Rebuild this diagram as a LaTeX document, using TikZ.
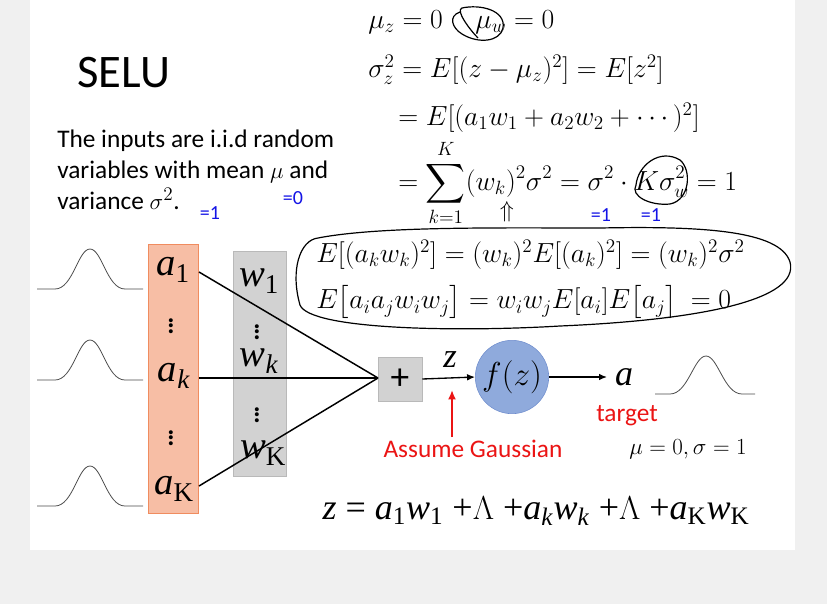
\documentclass[tikz,border=0pt]{standalone}
\usepackage{amsmath}
\usepackage{fontspec}
\setmainfont{Carlito}
\newfontfamily\tnr{Liberation Serif}
\usetikzlibrary{arrows.meta}
\definecolor{bgout}{RGB}{240,240,240}
\definecolor{org}{RGB}{247,190,165}
\definecolor{orgb}{RGB}{240,140,95}
\definecolor{gbox}{RGB}{210,210,210}
\definecolor{gboxb}{RGB}{185,185,185}
\definecolor{circ}{RGB}{143,170,220}
\definecolor{circb}{RGB}{110,140,205}
\definecolor{blu}{RGB}{20,20,230}
\definecolor{rd}{RGB}{235,20,20}
\tikzset{
 txt/.style={font=\fontsize{19}{23}\selectfont, align=left, inner sep=0},
 eq/.style={font=\fontsize{20}{24}\selectfont, inner sep=0, anchor=west},
 blue1/.style={font=\fontsize{15}{17}\selectfont, text=blu, inner sep=0},
 lab/.style={font=\tnr\itshape\fontsize{29}{32}\selectfont, inner sep=0},
 dts/.style={font=\fontsize{20}{20}\selectfont\bfseries, inner sep=0},
 gauss/.style={draw=black!70, line width=0.6pt},
 conn/.style={draw, line width=1.1pt},
 hand/.style={draw, line width=0.9pt},
 arr/.style={draw, line width=1pt, -{Latex[length=6pt,width=5pt]}}
}
\begin{document}
\begin{tikzpicture}[x=0.75pt,y=-0.75pt]
\fill[bgout] (0,0) rectangle (827,604);
\fill[white] (30,0) rectangle (795,550);
\useasboundingbox (0,0) rectangle (827,604);
% SELU
\node[font=\fontsize{35}{38}\selectfont, anchor=west, inner sep=0] (selu) at (77,73) {SELU};
\node[txt, anchor=north west] (intro) at (57,130) {The inputs are i.i.d random\\variables with mean $\mu$ and\\variance $\sigma^2$.};
\node[blue1] (b1) at (210,213) {=1};
\node[blue1] (b0) at (293,198) {=0};
% boxes
\draw[fill=org, draw=orgb] (148,244) rectangle (198,513);
\draw[fill=gbox, draw=gboxb] (233,251) rectangle (286,476);
% gaussians
\foreach \yb in {289,380,506}{
 \draw[gauss] (37,\yb) -- (55,\yb) .. controls (73,\yb) and (78,\yb-40) .. (90,\yb-40) .. controls (102,\yb-40) and (107,\yb) .. (125,\yb) -- (143,\yb);
}
\draw[gauss] (655,394) -- (670,394) .. controls (688,394) and (694,356) .. (706,356) .. controls (718,356) and (724,394) .. (742,394) -- (755,394);
% labels a
\node[lab] (a1) at (173,270) {a\textsubscript{\upshape 1}};
\node[lab] (ak) at (174,376) {a\textsubscript{k}};
\node[lab] (aK) at (174,489) {a\textsubscript{\upshape K}};
\node[dts] (d1) at (171,322) {$\vdots$};
\node[dts] (d2) at (171,434) {$\vdots$};
\node[lab] (w1) at (259,281) {w\textsubscript{\upshape 1}};
\node[lab] (wk) at (259,361) {w\textsubscript{k}};
\node[lab] (wK) at (263,453) {w\textsubscript{\upshape K}};
\node[dts] (d3) at (257,328) {$\vdots$};
\node[dts] (d4) at (257,411) {$\vdots$};
% plus
\node[draw=gboxb, fill=gbox, minimum width=33pt, minimum height=33pt, inner sep=0, font=\fontsize{28}{28}\selectfont] (plus) at (400,379) {+};
\coordinate (in) at (378,378);
\coordinate (s1) at (199,272);
\coordinate (s2) at (199,378);
\coordinate (s3) at (199,486);
\draw[conn] (s1) -- (in);
\draw[conn] (s2) -- (in);
\draw[conn] (s3) -- (in);
\node[circle, fill=circ, draw=circb, minimum size=55pt, inner sep=0, font=\fontsize{25}{25}\selectfont] (f) at (512,377) {$f(z)$};
\draw[arr] (plus.east) -- (f.west);
\node[font=\tnr\itshape\fontsize{26}{26}\selectfont, inner sep=0] (z) at (450,360) {z};
\coordinate (ra) at (452,437);
\coordinate (rb) at (452,390);
\draw[line width=1.6pt, draw=rd, -{Latex[length=7pt,width=6pt]}] (ra) -- (rb);
\node[font=\fontsize{19}{22}\selectfont, text=rd, inner sep=0] (ag) at (473,449) {Assume Gaussian};
\coordinate (aend) at (607,377);
\draw[arr] (f.east) -- (aend);
\node[font=\tnr\itshape\fontsize{27}{27}\selectfont, inner sep=0] (a) at (624,377) {a};
\node[font=\fontsize{19}{22}\selectfont, text=rd, inner sep=0] (tg) at (627,416) {target};
\node[font=\fontsize{19}{22}\selectfont, inner sep=0] (mu) at (688,449) {$\mu = 0, \sigma = 1$};
\node[font=\tnr\fontsize{27}{30}\selectfont, inner sep=0] (zeq) at (536,511) {\textit{z} = \textit{a}\textsubscript{1}\textit{w}\textsubscript{1} +$\Lambda$ +\textit{a}\textsubscript{\textit{k}}\textit{w}\textsubscript{\textit{k}} +$\Lambda$ +\textit{a}\textsubscript{K}\textit{w}\textsubscript{K}};
% equations
\node[eq] (e1) at (368,22) {$\mu_z = 0\quad\ \mu_w = 0$};
\node[eq] (e2) at (368,70) {$\sigma_z^2 = E[(z-\mu_z)^2] = E[z^2]$};
\node[eq] (e3) at (398,118) {$= E[(a_1w_1 + a_2w_2 + \cdots)^2]$};
\node[eq] (e4) at (398,183) {$= \displaystyle\sum_{k=1}^{K}(w_k)^2\sigma^2 = \sigma^2\cdot K\sigma_w^2 = 1$};
\node[blue1] (b2) at (601,215) {=1};
\node[blue1] (b3) at (651,215) {=1};
\node[font=\fontsize{18}{18}\selectfont, inner sep=0] (up) at (507,212) {$\Uparrow$};
\node[eq] (e5) at (316,255) {$E[(a_kw_k)^2] = (w_k)^2E[(a_k)^2] = (w_k)^2\sigma^2$};
\node[eq] (e6) at (316,302) {$E\big[a_ia_jw_iw_j\big] = w_iw_jE[a_i]E\big[a_j\big] \ = 0$};
% hand-drawn loops
\draw[hand] (460,12) .. controls (448,16) and (452,28) .. (462,34) .. controls (478,44) and (500,42) .. (503,28) .. controls (506,10) and (480,4) .. (462,8) .. controls (455,10) and (470,30) .. (478,38);
\draw[hand] (636,185) .. controls (638,165) and (660,148) .. (680,160) .. controls (692,170) and (690,200) .. (670,204) .. controls (650,206) and (630,196) .. (636,185);
\draw[hand] (318,238) .. controls (300,240) and (290,270) .. (300,305) .. controls (310,330) and (460,332) .. (560,326) .. controls (700,320) and (800,300) .. (790,262) .. controls (780,230) and (700,226) .. (600,228) .. controls (500,228) and (380,226) .. (318,238);
\end{tikzpicture}
\end{document}
